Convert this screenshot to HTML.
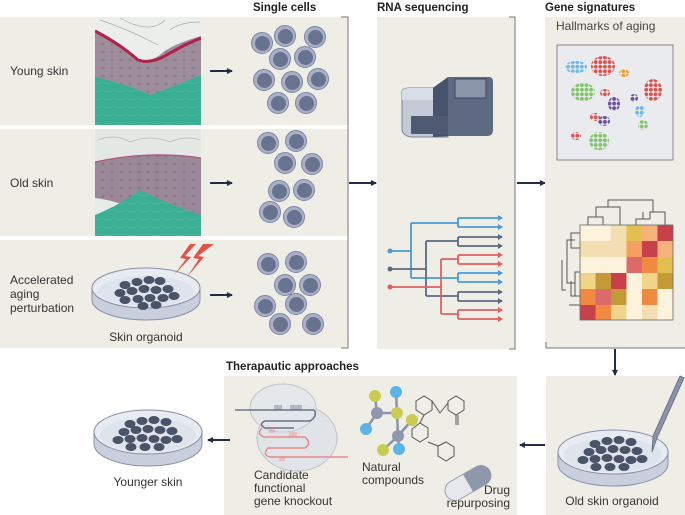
<!DOCTYPE html>
<html><head><meta charset="utf-8"><style>
body{margin:0;background:#fff;}
svg{display:block;font-family:"Liberation Sans",sans-serif;}
</style></head><body>
<svg width="685" height="515" viewBox="0 0 685 515" xmlns="http://www.w3.org/2000/svg">
<defs>
<pattern id="pr" width="4.6" height="4.6" patternUnits="userSpaceOnUse"><circle cx="2.3" cy="2.3" r="2" fill="#d9534f"/></pattern>
<pattern id="pb" width="4.6" height="4.6" patternUnits="userSpaceOnUse"><circle cx="2.3" cy="2.3" r="2" fill="#6cb9e6"/></pattern>
<pattern id="pg" width="4.6" height="4.6" patternUnits="userSpaceOnUse"><circle cx="2.3" cy="2.3" r="2" fill="#82c46a"/></pattern>
<pattern id="pp" width="4.6" height="4.6" patternUnits="userSpaceOnUse"><circle cx="2.3" cy="2.3" r="2" fill="#6a4fa0"/></pattern>
<pattern id="po" width="4.6" height="4.6" patternUnits="userSpaceOnUse"><circle cx="2.3" cy="2.3" r="2" fill="#f39a2c"/></pattern>
<pattern id="nuc" width="9" height="8" patternUnits="userSpaceOnUse"><circle cx="4" cy="4" r="1.5" fill="#6e5068" opacity="0.3"/></pattern>
<pattern id="fib" width="12" height="8" patternUnits="userSpaceOnUse"><path d="M0,4 Q6,1 12,4" stroke="#62c2a8" stroke-width="0.8" fill="none" opacity="0.5"/></pattern>
<g id="cell"><circle r="10.5" fill="#a9b0c8" stroke="#7d86a3" stroke-width="1"/><circle cx="0.5" cy="0.5" r="7.5" fill="#68738f"/></g>
<marker id="ah" markerWidth="6" markerHeight="6" refX="5" refY="3" orient="auto" markerUnits="userSpaceOnUse"><path d="M0,0 L6,3 L0,6z" fill="#1f2d48"/></marker>
<clipPath id="c1"><rect x="95" y="17" width="106" height="108"/></clipPath>
<clipPath id="c2"><rect x="95" y="129" width="106" height="107"/></clipPath>
</defs>

<text x="253" y="11" font-size="11.5" font-weight="bold" fill="#222">Single cells</text>
<text x="377" y="11" font-size="11.5" font-weight="bold" fill="#222">RNA sequencing</text>
<text x="545" y="11" font-size="11.5" font-weight="bold" fill="#222">Gene signatures</text>

<rect x="0" y="17" width="348" height="108" fill="#efeee6"/>
<rect x="0" y="129" width="348" height="107" fill="#efeee6"/>
<rect x="0" y="240" width="348" height="108" fill="#efeee6"/>
<path d="M341,17 H348 V348 H341" fill="none" stroke="#777" stroke-width="1"/>
<text x="10" y="75" font-size="12" fill="#333">Young skin</text>
<text x="10" y="187" font-size="12" fill="#333">Old skin</text>
<text x="10" y="284" font-size="12" fill="#333">Accelerated</text>
<text x="10" y="298" font-size="12" fill="#333">aging</text>
<text x="10" y="312" font-size="12" fill="#333">perturbation</text>

<g clip-path="url(#c1)">
<rect x="95" y="17" width="106" height="108" fill="#9e8e9c"/>
<rect x="95" y="17" width="106" height="108" fill="url(#nuc)"/>
<path d="M95,17 H201 V36 Q170,45 160,55 Q150,62 140,60 Q120,45 95,30z" fill="#eceeec"/>
<path d="M100,20 Q130,30 158,45 M120,18 Q150,35 165,20 M170,30 Q180,22 200,22" stroke="#aaa" fill="none" stroke-width="0.7"/>
<path d="M95,31 Q120,44 138,60 Q150,64 165,56 Q185,44 201,38" stroke="#b3204a" stroke-width="3" fill="none"/>
<path d="M95,77 Q130,85 150,95 Q175,86 201,75 V125 H95z" fill="#38ae92"/>
<path d="M95,77 Q130,85 150,95 Q175,86 201,75 V125 H95z" fill="url(#fib)"/>
</g>
<g clip-path="url(#c2)">
<rect x="95" y="129" width="106" height="107" fill="#9a8898"/>
<rect x="95" y="129" width="106" height="107" fill="url(#nuc)"/>
<path d="M95,129 H201 V158 Q150,150 95,162z" fill="#e4e8e5"/>
<path d="M98,140 Q115,133 130,142 Q150,134 170,142 Q185,135 200,140" stroke="#bbb" fill="none" stroke-width="0.8"/>
<path d="M95,162 Q150,150 201,158" stroke="#b55070" stroke-width="1.2" fill="none"/>
<path d="M95,198 Q115,200 135,210 Q120,220 95,225z" fill="#e6ece8"/>
<path d="M95,215 Q120,205 140,190 Q170,205 201,215 V236 H95z" fill="#3aaf93"/>
<path d="M95,215 Q120,205 140,190 Q170,205 201,215 V236 H95z" fill="url(#fib)"/>
</g>
<line x1="210" y1="71" x2="232" y2="71" stroke="#1f2d48" stroke-width="2" marker-end="url(#ah)"/>
<line x1="210" y1="183" x2="232" y2="183" stroke="#1f2d48" stroke-width="2" marker-end="url(#ah)"/>
<line x1="210" y1="295" x2="232" y2="295" stroke="#1f2d48" stroke-width="2" marker-end="url(#ah)"/>

<path d="M92,288 v12 a54,20 0 0 0 108,0 v-12" fill="#c9cfdc" stroke="#8890a8"/>
<ellipse cx="146" cy="288" rx="54" ry="20" fill="#e8ebf2" stroke="#8890a8"/>
<ellipse cx="146" cy="291" rx="48" ry="15" fill="#dfe3ec"/>
<g fill="#4a5468">
<ellipse cx="125" cy="285" rx="5.5" ry="4"/><ellipse cx="137" cy="282" rx="5.5" ry="4"/><ellipse cx="149" cy="280" rx="5.5" ry="4"/><ellipse cx="160" cy="281" rx="5.5" ry="4"/>
<ellipse cx="120" cy="293" rx="5.5" ry="4"/><ellipse cx="132" cy="291" rx="5.5" ry="4"/><ellipse cx="144" cy="289" rx="5.5" ry="4"/><ellipse cx="156" cy="290" rx="5.5" ry="4"/><ellipse cx="168" cy="289" rx="5.5" ry="4"/>
<ellipse cx="125" cy="300" rx="5.5" ry="4"/><ellipse cx="138" cy="299" rx="5.5" ry="4"/><ellipse cx="150" cy="298" rx="5.5" ry="4"/><ellipse cx="163" cy="298" rx="5.5" ry="4"/><ellipse cx="174" cy="296" rx="5.5" ry="4"/>
<ellipse cx="143" cy="306" rx="5.5" ry="4"/><ellipse cx="156" cy="305" rx="5.5" ry="4"/>
</g>
<path d="M190,244 L180,258 L186,259 L174,275 L191,257 L185,256 L196,244z" fill="#e2504a"/>
<path d="M203,244 L193,258 L199,259 L187,277 L204,257 L198,256 L214,244z" fill="#e2504a"/>
<text x="146" y="341" font-size="12" fill="#333" text-anchor="middle">Skin organoid</text>
<use href="#cell" x="262" y="43"/><use href="#cell" x="285" y="36"/><use href="#cell" x="315" y="37"/><use href="#cell" x="280" y="59"/><use href="#cell" x="305" y="57"/><use href="#cell" x="264" y="80"/><use href="#cell" x="292" y="82"/><use href="#cell" x="318" y="79"/><use href="#cell" x="278" y="103"/><use href="#cell" x="306" y="103"/>
<use href="#cell" x="268" y="143"/><use href="#cell" x="296" y="141"/><use href="#cell" x="285" y="163"/><use href="#cell" x="312" y="164"/><use href="#cell" x="279" y="191"/><use href="#cell" x="304" y="190"/><use href="#cell" x="270" y="212"/><use href="#cell" x="294" y="217"/>
<use href="#cell" x="268" y="264"/><use href="#cell" x="296" y="262"/><use href="#cell" x="285" y="285"/><use href="#cell" x="310" y="285"/><use href="#cell" x="265" y="306"/><use href="#cell" x="296" y="304"/><use href="#cell" x="280" y="324"/><use href="#cell" x="313" y="324"/>

<line x1="349" y1="183" x2="376" y2="183" stroke="#1f2d48" stroke-width="2" marker-end="url(#ah)"/>
<line x1="517" y1="183" x2="545" y2="183" stroke="#1f2d48" stroke-width="2" marker-end="url(#ah)"/>

<rect x="377" y="17" width="138" height="332" fill="#efeee6"/>
<path d="M509,17 H515 V349 H509" fill="none" stroke="#777"/>
<path d="M402,95 Q400,89 408,88 H433 L446,83 L448,137 H413 Q404,137 402,130z" fill="#c4cad6" stroke="#7a8294"/>
<path d="M402,95 Q400,89 408,88 H433 V100 H402z" fill="#d8dde6"/>
<path d="M433,88 L448,77 H489 Q493,77 493,82 V130 Q493,136 487,136 H448 L433,137z" fill="#5d6a82"/>
<path d="M433,88 L448,77 V136 L433,137z" fill="#46536b"/>
<rect x="455" y="79" width="31" height="19" fill="#8a95aa" stroke="#3b465c"/>
<path d="M411,116 H448 V134 H411z" fill="#4d5a72"/>
<g fill="none" stroke-width="1.8">
<g stroke="#4a9ad4"><path d="M390,251 H411 M411,223 V278 M411,223 H458 M411,278 H458 M458,218 V227 M458,273 V282 M458,218 H499 M458,227 H499 M458,273 H499 M458,282 H499"/></g>
<g stroke="#5a6a80"><path d="M390,269 H426 M426,241 V296 M426,241 H458 M426,296 H458 M458,237 V246 M458,292 V301 M458,237 H499 M458,246 H499 M458,292 H499 M458,301 H499"/></g>
<g stroke="#e06060"><path d="M390,287 H441 M441,259 V314 M441,259 H458 M441,314 H458 M458,255 V264 M458,310 V319 M458,255 H499 M458,264 H499 M458,310 H499 M458,319 H499"/></g>
</g>
<circle cx="390" cy="251" r="2.5" fill="#4a9ad4"/><circle cx="390" cy="269" r="2.5" fill="#5a6a80"/><circle cx="390" cy="287" r="2.5" fill="#e06060"/>
<g fill="#4a9ad4"><path d="M498,215 l5,3 l-5,3z M498,224 l5,3 l-5,3z M498,270 l5,3 l-5,3z M498,279 l5,3 l-5,3z"/></g>
<g fill="#5a6a80"><path d="M498,234 l5,3 l-5,3z M498,243 l5,3 l-5,3z M498,289 l5,3 l-5,3z M498,298 l5,3 l-5,3z"/></g>
<g fill="#e06060"><path d="M498,252 l5,3 l-5,3z M498,261 l5,3 l-5,3z M498,307 l5,3 l-5,3z M498,316 l5,3 l-5,3z"/></g>

<rect x="545" y="17" width="140" height="331" fill="#efeee6"/>
<path d="M546,342 V348 H685" fill="none" stroke="#777"/>
<text x="556" y="30" font-size="12" fill="#444">Hallmarks of aging</text>
<rect x="557" y="45" width="116" height="115" fill="#e9ebee" stroke="#888"/>
<ellipse cx="576" cy="67" rx="11" ry="6" fill="url(#pb)"/>
<ellipse cx="603" cy="66" rx="12" ry="10" fill="url(#pr)"/>
<ellipse cx="624" cy="73" rx="5" ry="4" fill="url(#po)"/>
<ellipse cx="583" cy="92" rx="12" ry="9" fill="url(#pg)"/>
<ellipse cx="605" cy="93" rx="5" ry="4" fill="url(#pr)"/>
<ellipse cx="614" cy="104" rx="6" ry="7" fill="url(#pp)"/>
<ellipse cx="634" cy="98" rx="4" ry="4" fill="url(#pp)"/>
<ellipse cx="653" cy="90" rx="9" ry="11" fill="url(#pr)"/>
<ellipse cx="640" cy="111" rx="5" ry="6" fill="url(#pb)"/>
<ellipse cx="643" cy="125" rx="5" ry="5" fill="url(#pg)"/>
<ellipse cx="595" cy="117" rx="5" ry="4" fill="url(#pr)"/>
<ellipse cx="604" cy="121" rx="6" ry="5" fill="url(#pp)"/>
<ellipse cx="576" cy="136" rx="5" ry="4" fill="url(#pr)"/>
<ellipse cx="599" cy="141" rx="10" ry="9" fill="url(#pg)"/>
<g fill="none" stroke="#555" stroke-width="1">
<path d="M588,225 V217 H603 V225 M596,217 V207 H620 V225 M608,207 V200 H653 V212 M636,225 V219 H650 V212 H665 V225 M643,212 V219"/>
<path d="M580,233 H571 V248 H580 M575,240 H567 V283 H575 V272 H580 M575,283 V296 H571 V281 M571,296 H580 M569,305 H580 M566,290 H562 V260"/>
</g>
<g>
<rect x="580" y="225" width="15.5" height="16" fill="#fdf3dc"/><rect x="595.5" y="225" width="15.5" height="16" fill="#fdf3dc"/><rect x="611" y="225" width="15.5" height="16" fill="#f2deb0"/><rect x="626.5" y="225" width="15.5" height="16" fill="#e2c050"/><rect x="642" y="225" width="15.5" height="16" fill="#f5b27a"/><rect x="657.5" y="225" width="15.5" height="16" fill="#c8404a"/>
<rect x="580" y="241" width="15.5" height="16" fill="#f2deb0"/><rect x="595.5" y="241" width="15.5" height="16" fill="#f2deb0"/><rect x="611" y="241" width="15.5" height="16" fill="#f2deb0"/><rect x="626.5" y="241" width="15.5" height="16" fill="#f3a060"/><rect x="642" y="241" width="15.5" height="16" fill="#c8404a"/><rect x="657.5" y="241" width="15.5" height="16" fill="#f5b27a"/>
<rect x="580" y="257" width="15.5" height="16" fill="#fdf3dc"/><rect x="595.5" y="257" width="15.5" height="16" fill="#fdf3dc"/><rect x="611" y="257" width="15.5" height="16" fill="#fdf3dc"/><rect x="626.5" y="257" width="15.5" height="16" fill="#dd6a6a"/><rect x="642" y="257" width="15.5" height="16" fill="#f08a40"/><rect x="657.5" y="257" width="15.5" height="16" fill="#e2c050"/>
<rect x="580" y="273" width="15.5" height="16" fill="#f0d48a"/><rect x="595.5" y="273" width="15.5" height="16" fill="#c49a38"/><rect x="611" y="273" width="15.5" height="16" fill="#c8404a"/><rect x="626.5" y="273" width="15.5" height="16" fill="#fdf3dc"/><rect x="642" y="273" width="15.5" height="16" fill="#f0d48a"/><rect x="657.5" y="273" width="15.5" height="16" fill="#c49a38"/>
<rect x="580" y="289" width="15.5" height="16" fill="#f08a40"/><rect x="595.5" y="289" width="15.5" height="16" fill="#dd6a6a"/><rect x="611" y="289" width="15.5" height="16" fill="#c49a38"/><rect x="626.5" y="289" width="15.5" height="16" fill="#fdf3dc"/><rect x="642" y="289" width="15.5" height="16" fill="#f08a40"/><rect x="657.5" y="289" width="15.5" height="16" fill="#fdf3dc"/>
<rect x="580" y="305" width="15.5" height="15" fill="#c8404a"/><rect x="595.5" y="305" width="15.5" height="15" fill="#f08a40"/><rect x="611" y="305" width="15.5" height="15" fill="#f0d48a"/><rect x="626.5" y="305" width="15.5" height="15" fill="#fdf3dc"/><rect x="642" y="305" width="15.5" height="15" fill="#f2deb0"/><rect x="657.5" y="305" width="15.5" height="15" fill="#fdf3dc"/>
<rect x="580" y="225" width="93" height="95" fill="none" stroke="#666" stroke-width="0.8"/>
</g>

<line x1="615" y1="349" x2="615" y2="375" stroke="#1f2d48" stroke-width="2" marker-end="url(#ah)"/>

<text x="226" y="370" font-size="11.5" font-weight="bold" fill="#222">Therapautic approaches</text>
<rect x="224" y="376" width="293" height="139" fill="#efeee6"/>
<rect x="546" y="376" width="139" height="139" fill="#efeee6"/>
<line x1="545" y1="445" x2="520" y2="445" stroke="#1f2d48" stroke-width="2" marker-end="url(#ah)"/>
<line x1="230" y1="440" x2="208" y2="440" stroke="#1f2d48" stroke-width="2" marker-end="url(#ah)"/>

<path d="M94,432 v12 a54,22 0 0 0 108,0 v-12" fill="#c9cfdc" stroke="#8890a8"/>
<ellipse cx="148" cy="432" rx="54" ry="22" fill="#e8ebf2" stroke="#8890a8"/>
<ellipse cx="148" cy="435" rx="48" ry="17" fill="#dfe3ec"/>
<g fill="#4a5468">
<ellipse cx="130" cy="424" rx="5.5" ry="4"/><ellipse cx="142" cy="421" rx="5.5" ry="4"/><ellipse cx="154" cy="420" rx="5.5" ry="4"/><ellipse cx="166" cy="422" rx="5.5" ry="4"/>
<ellipse cx="124" cy="432" rx="5.5" ry="4"/><ellipse cx="136" cy="430" rx="5.5" ry="4"/><ellipse cx="148" cy="429" rx="5.5" ry="4"/><ellipse cx="160" cy="430" rx="5.5" ry="4"/><ellipse cx="172" cy="431" rx="5.5" ry="4"/>
<ellipse cx="118" cy="440" rx="5.5" ry="4"/><ellipse cx="130" cy="439" rx="5.5" ry="4"/><ellipse cx="142" cy="438" rx="5.5" ry="4"/><ellipse cx="154" cy="439" rx="5.5" ry="4"/><ellipse cx="166" cy="440" rx="5.5" ry="4"/><ellipse cx="177" cy="439" rx="5.5" ry="4"/>
<ellipse cx="131" cy="447" rx="5.5" ry="4"/><ellipse cx="145" cy="447" rx="5.5" ry="4"/><ellipse cx="159" cy="447" rx="5.5" ry="4"/>
</g>
<text x="148" y="486" font-size="12" fill="#333" text-anchor="middle">Younger skin</text>

<ellipse cx="297" cy="438" rx="40" ry="33" fill="#dfe2e8" stroke="#b8bdc8" opacity="0.9"/>
<ellipse cx="283" cy="408" rx="33" ry="24" fill="#e4e7ec" stroke="#b8bdc8" opacity="0.85"/>
<path d="M235,410 H314 Q318,416 310,421 H265 Q258,424 265,428 H294" fill="none" stroke="#6a7488" stroke-width="1.5"/>
<path d="M262,428 Q256,434 264,437 H305 Q312,443 305,448 H268 Q262,455 270,457 H348" fill="none" stroke="#e88a8a" stroke-width="1.5"/>
<g stroke="#6a7488" stroke-width="0.8"><path d="M275,405v5M277,405v5M279,405v5M281,405v5M291,405v5M293,405v5M295,405v5M297,405v5M299,405v5M301,405v5"/></g>
<g stroke="#e88a8a" stroke-width="0.8"><path d="M270,428v5M272,428v5M274,428v5M290,432v5M292,432v5M294,432v5M296,432v5M280,457v4M282,457v4M284,457v4"/></g>
<text x="254" y="479" font-size="12" fill="#333">Candidate</text>
<text x="254" y="492" font-size="12" fill="#333">functional</text>
<text x="254" y="505" font-size="12" fill="#333">gene knockout</text>

<g stroke="#8a93a8" stroke-width="2.5">
<path d="M377,413 L375,396 M377,413 L366,429 M377,413 L397,413 M397,413 L396,392 M397,413 L398,436 M398,436 L412,420 M398,436 L383,450 M398,436 L399,449"/>
</g>
<circle cx="375" cy="396" r="6" fill="#c8cc50"/><circle cx="366" cy="429" r="6" fill="#5ab4e8"/><circle cx="396" cy="392" r="6" fill="#5ab4e8"/>
<circle cx="377" cy="413" r="6" fill="#8e97ad"/><circle cx="397" cy="413" r="6" fill="#c8cc50"/><circle cx="398" cy="436" r="6" fill="#8e97ad"/>
<circle cx="412" cy="420" r="6" fill="#c8cc50"/><circle cx="383" cy="450" r="6" fill="#c8cc50"/><circle cx="399" cy="449" r="6" fill="#5ab4e8"/>
<g fill="none" stroke="#555" stroke-width="1">
<path d="M416,401 l8,-5 l8,5 v9 l-8,5 l-8,-5z"/>
<path d="M432,401 l8,12 M440,413 l8,-10"/>
<path d="M448,401 l8,-5 l8,5 v9 l-8,5 l-8,-5z M456,415 v10 M458,415 v10"/>
<path d="M424,415 l-4,8 M412,429 l8,-6 l8,5 v9 l-8,5 l-8,-5z"/>
<path d="M428,442 l10,4 M438,446 l8,-4 l8,5 v9 l-8,5 l-8,-5z"/>
</g>
<text x="362" y="471" font-size="12" fill="#333">Natural</text>
<text x="362" y="484" font-size="12" fill="#333">compounds</text>
<g transform="translate(468,483) rotate(-30)">
<rect x="-25" y="-10" width="50" height="20" rx="10" fill="#e6e8ee" stroke="#9aa2b4"/>
<path d="M0,-10 H15 A10,10 0 0 1 15,10 H0z" fill="#8f97aa"/>
</g>
<text x="510" y="494" font-size="12" fill="#333" text-anchor="end">Drug</text>
<text x="510" y="507" font-size="12" fill="#333" text-anchor="end">repurposing</text>

<path d="M558,452 v12 a55,22 0 0 0 110,0 v-12" fill="#c9cfdc" stroke="#8890a8"/>
<ellipse cx="613" cy="452" rx="55" ry="22" fill="#e8ebf2" stroke="#8890a8"/>
<ellipse cx="613" cy="455" rx="49" ry="17" fill="#dfe3ec"/>
<g fill="#4a5468">
<ellipse cx="595" cy="444" rx="5.5" ry="4"/><ellipse cx="607" cy="441" rx="5.5" ry="4"/><ellipse cx="619" cy="440" rx="5.5" ry="4"/><ellipse cx="631" cy="442" rx="5.5" ry="4"/>
<ellipse cx="589" cy="452" rx="5.5" ry="4"/><ellipse cx="601" cy="450" rx="5.5" ry="4"/><ellipse cx="613" cy="449" rx="5.5" ry="4"/><ellipse cx="625" cy="450" rx="5.5" ry="4"/><ellipse cx="637" cy="451" rx="5.5" ry="4"/>
<ellipse cx="583" cy="460" rx="5.5" ry="4"/><ellipse cx="595" cy="459" rx="5.5" ry="4"/><ellipse cx="607" cy="458" rx="5.5" ry="4"/><ellipse cx="619" cy="459" rx="5.5" ry="4"/><ellipse cx="631" cy="460" rx="5.5" ry="4"/><ellipse cx="642" cy="459" rx="5.5" ry="4"/>
<ellipse cx="596" cy="467" rx="5.5" ry="4"/><ellipse cx="610" cy="467" rx="5.5" ry="4"/><ellipse cx="624" cy="467" rx="5.5" ry="4"/>
</g>
<path d="M680,376 L684,378 L657,438 L652,452 L653,436z" fill="#8a93a8" stroke="#5d667a" stroke-width="0.8"/>
<text x="612" y="505" font-size="12" fill="#333" text-anchor="middle">Old skin organoid</text>
</svg>
</body></html>
